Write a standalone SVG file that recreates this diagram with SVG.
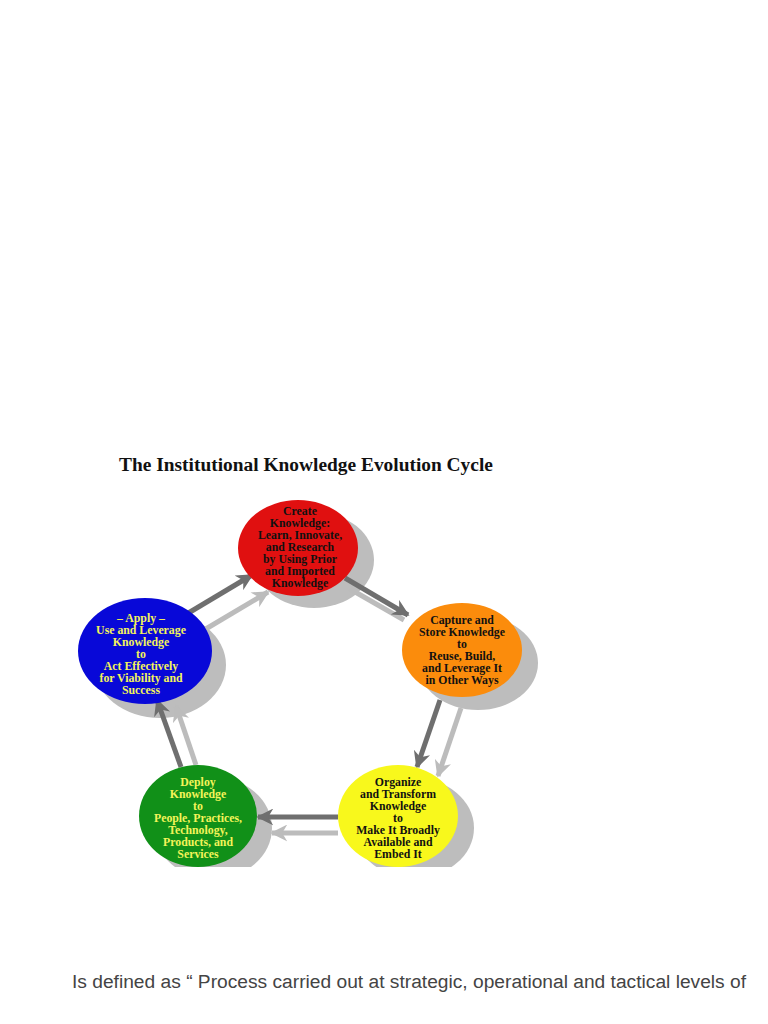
<svg xmlns="http://www.w3.org/2000/svg" width="768" height="1024" viewBox="0 0 768 1024">
<style>
.t{font-family:"Liberation Serif","Times New Roman",serif;font-weight:bold;font-size:11.8px;text-anchor:middle}
.dk{fill:#111}
.yl{fill:#f4f45a}
.sh{fill:#bdbdbd}
.a1{stroke:#6f6f6f;stroke-width:5;fill:none}
.a2{stroke:#bcbcbc;stroke-width:5;fill:none}
</style>
<defs>
<marker id="h1" viewBox="0 0 10 10" refX="9" refY="5" markerWidth="3.4" markerHeight="3.4" orient="auto" markerUnits="strokeWidth"><path d="M0,0 L10,5 L0,10 L3,5 Z" fill="#6f6f6f"/></marker>
<marker id="h2" viewBox="0 0 10 10" refX="9" refY="5" markerWidth="3.4" markerHeight="3.4" orient="auto" markerUnits="strokeWidth"><path d="M0,0 L10,5 L0,10 L3,5 Z" fill="#bcbcbc"/></marker>
<clipPath id="cp"><rect x="60" y="440" width="500" height="427"/></clipPath>
</defs>
<rect width="768" height="1024" fill="#fff"/>
<text x="306" y="471" style="font-family:'Liberation Serif','Times New Roman',serif;font-weight:bold;font-size:19.4px" text-anchor="middle" fill="#111">The Institutional Knowledge Evolution Cycle</text>
<g clip-path="url(#cp)">
<g id="shadows">
<ellipse class="sh" cx="314" cy="560" rx="60" ry="48"/>
<ellipse class="sh" cx="478" cy="663" rx="60" ry="47"/>
<ellipse class="sh" cx="160" cy="665" rx="66" ry="53"/>
<ellipse class="sh" cx="213" cy="828" rx="59" ry="51"/>
<ellipse class="sh" cx="414" cy="828" rx="60" ry="50"/>
</g>
<g id="connectors">
<line class="a2" x1="350" y1="589" x2="404" y2="620"/>
<line class="a1" x1="345" y1="578" x2="408" y2="615" marker-end="url(#h1)"/>
<line class="a1" x1="180" y1="618" x2="252" y2="575" marker-end="url(#h1)"/>
<line class="a2" x1="199" y1="633" x2="268" y2="592" marker-end="url(#h2)"/>
<line class="a1" x1="440" y1="700" x2="417" y2="767" marker-end="url(#h1)"/>
<line class="a2" x1="461" y1="708" x2="438" y2="776" marker-end="url(#h2)"/>
<line class="a1" x1="338" y1="817" x2="258" y2="817" marker-end="url(#h1)"/>
<line class="a2" x1="338" y1="833" x2="272" y2="833" marker-end="url(#h2)"/>
<line class="a1" x1="181" y1="767" x2="157" y2="700" marker-end="url(#h1)"/>
<line class="a2" x1="196" y1="765" x2="176" y2="706" marker-end="url(#h2)"/>
</g>
<g id="create">
<ellipse cx="298" cy="548" rx="60" ry="48" fill="#e01010"/>
<text class="t dk"><tspan x="300" y="515">Create</tspan><tspan x="300" y="527">Knowledge:</tspan><tspan x="300" y="539">Learn, Innovate,</tspan><tspan x="300" y="551">and Research</tspan><tspan x="300" y="563">by Using Prior</tspan><tspan x="300" y="575">and Imported</tspan><tspan x="300" y="587">Knowledge</tspan></text>
</g>
<g id="capture">
<ellipse cx="462" cy="650" rx="60" ry="47" fill="#fb8c0c"/>
<text class="t dk"><tspan x="462" y="624">Capture and</tspan><tspan x="462" y="636">Store Knowledge</tspan><tspan x="462" y="648">to</tspan><tspan x="462" y="660">Reuse, Build,</tspan><tspan x="462" y="672">and Leverage It</tspan><tspan x="462" y="684">in Other Ways</tspan></text>
</g>
<g id="apply">
<ellipse cx="145" cy="651" rx="67" ry="53" fill="#0808d8"/>
<text class="t yl"><tspan x="141" y="622">– Apply –</tspan><tspan x="141" y="634">Use and Leverage</tspan><tspan x="141" y="646">Knowledge</tspan><tspan x="141" y="658">to</tspan><tspan x="141" y="670">Act Effectively</tspan><tspan x="141" y="682">for Viability and</tspan><tspan x="141" y="694">Success</tspan></text>
</g>
<g id="deploy">
<ellipse cx="198" cy="816" rx="59" ry="51" fill="#119018"/>
<text class="t yl"><tspan x="198" y="786">Deploy</tspan><tspan x="198" y="798">Knowledge</tspan><tspan x="198" y="810">to</tspan><tspan x="198" y="822">People, Practices,</tspan><tspan x="198" y="834">Technology,</tspan><tspan x="198" y="846">Products, and</tspan><tspan x="198" y="858">Services</tspan></text>
</g>
<g id="organize">
<ellipse cx="398" cy="816" rx="60" ry="51" fill="#f8f81c"/>
<text class="t dk"><tspan x="398" y="786">Organize</tspan><tspan x="398" y="798">and Transform</tspan><tspan x="398" y="810">Knowledge</tspan><tspan x="398" y="822">to</tspan><tspan x="398" y="834">Make It Broadly</tspan><tspan x="398" y="846">Available and</tspan><tspan x="398" y="858">Embed It</tspan></text>
</g>
</g>
<text x="72" y="988" style="font-family:'Liberation Sans',Arial,sans-serif;font-size:19.2px" fill="#444">Is defined as “ Process carried out at strategic, operational and tactical levels of</text>
</svg>
